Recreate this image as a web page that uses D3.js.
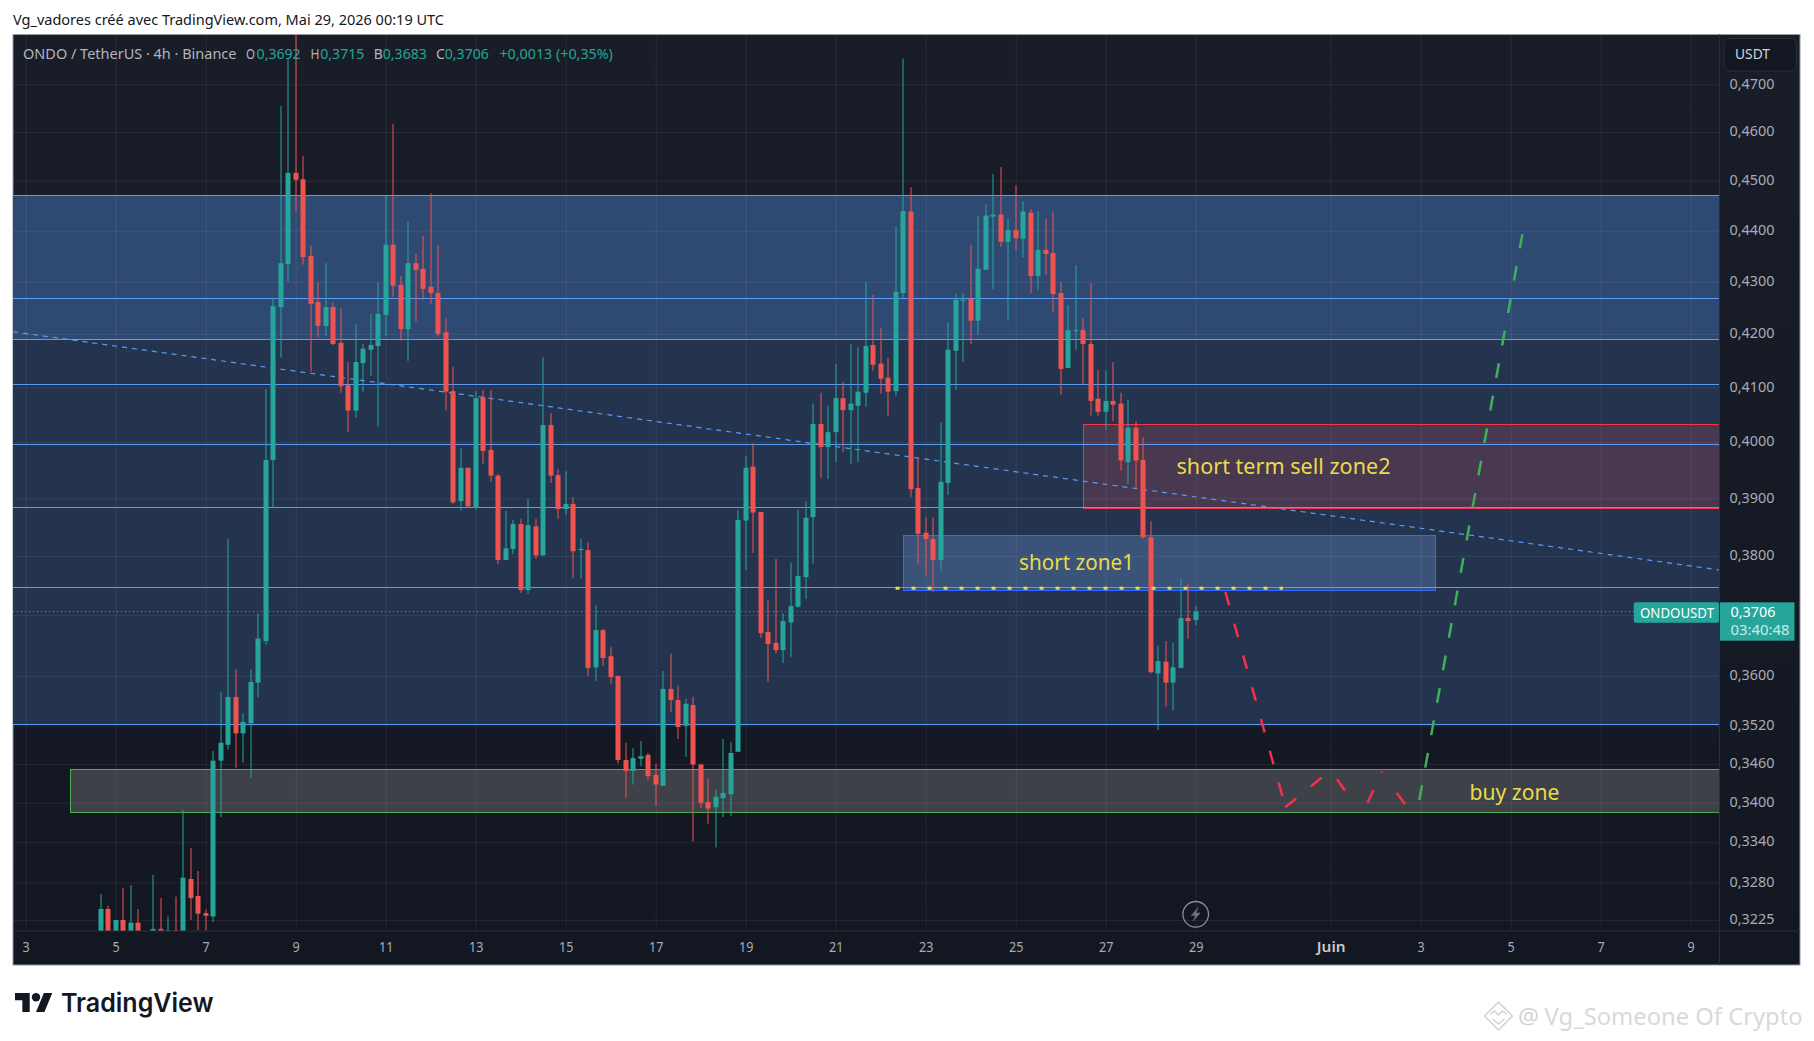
<!DOCTYPE html>
<html>
<head>
<meta charset="utf-8">
<title>ONDO / TetherUS</title>
<script src="https://cdn.jsdelivr.net/npm/d3@7"></script>
<style>
  html, body { margin: 0; padding: 0; background: #fff; }
  svg { display: block; }
  text { font-family: 'Noto Sans', sans-serif; }
</style>
</head>
<body>
<svg id="chart" width="1814" height="1041"></svg>
<script>
// 4h candles, first one is May 4 16:00 UTC. Candles below the pane are estimated.
const firstDay = 3 + 10 / 6;
const opens = [
  .3190,.3241,.3195,.3225,.3195,.3221,.3195,.3190,.3212,.3195,
  .3210,.3200,.3285,.3260,.3235,.3230,.3465,.3490,.3566,.3508,
  .3524,.3589,.3657,.3968,.4251,.4334,.4516,.4503,.4350,.4261,
  .4215,.4251,.4183,.4104,.4057,.4145,.4170,.4177,.4236,.4372,
  .4294,.4209,.4336,.4325,.4290,.4278,.4203,.4093,.3895,.3954,
  .3883,.4082,.3986,.3940,.3793,.3812,.3855,.3742,.3851,.3801,
  .4031,.3941,.3881,.3890,.3810,.3810,.3614,.3675,.3632,.3600,
  .3466,.3449,.3468,.3474,.3443,.3426,.3579,.3561,.3520,.3553,
  .3459,.3401,.3393,.3407,.3413,.3479,.3861,.3956,.3876,.3672,
  .3654,.3642,.3688,.3714,.3764,.3867,.4033,.3991,.4018,.4080,
  .4058,.4066,.4090,.4179,.4144,.4118,.4093,.4278,.4438,.3918,
  .3840,.3829,.3793,.3927,.4168,.4263,.4267,.4225,.4323,.4428,
  .4432,.4378,.4401,.4384,.4436,.4311,.4362,.4356,.4278,.4136,
  .4205,.4207,.4181,.4079,.4055,.4075,.4070,.3964,.4026,.3968,
  .3832,.3604,.3623,.3589,.3613,.3695,.3692];
const highs = [
  .3263,.3246,.3225,.3272,.3276,.3241,.3205,.3291,.3257,.3230,
  .3259,.3389,.3331,.3297,.3240,.3480,.3574,.3829,.3611,.3540,
  .3611,.3703,.4097,.4269,.4654,.4755,.4830,.4551,.4370,.4299,
  .4336,.4259,.4249,.4147,.4219,.4181,.4238,.4299,.4471,.4617,
  .4311,.4418,.4354,.4390,.4475,.4372,.4230,.4138,.3989,.3954,
  .4093,.4095,.4095,.3943,.3878,.3862,.3864,.3899,.3864,.4156,
  .4053,.3952,.3948,.3902,.3829,.3824,.3717,.3677,.3647,.3600,
  .3493,.3485,.3496,.3477,.3460,.3608,.3636,.3585,.3563,.3566,
  .3460,.3437,.3420,.3499,.3494,.3880,.3975,.3998,.3876,.3725,
  .3795,.3703,.3789,.3880,.3895,.4070,.4090,.4066,.4144,.4110,
  .4181,.4175,.4299,.4274,.4211,.4155,.4408,.4755,.4487,.3973,
  .3867,.3867,.4036,.4222,.4276,.4278,.4372,.4430,.4453,.4514,
  .4528,.4424,.4491,.4459,.4443,.4439,.4424,.4438,.4299,.4255,
  .4332,.4230,.4297,.4132,.4131,.4147,.4090,.4077,.4038,.4009,
  .3860,.3649,.3657,.3654,.3761,.3752,.3715];
const lows = [
  .3180,.3180,.3180,.3185,.3185,.3180,.3170,.3180,.3180,.3185,
  .3180,.3190,.3225,.3210,.3195,.3222,.3378,.3482,.3454,.3462,
  .3438,.3565,.3651,.3883,.4155,.4299,.4438,.4333,.4129,.4194,
  .4196,.4179,.4090,.4018,.4044,.4092,.4121,.4028,.4196,.4271,
  .4187,.4149,.4223,.4265,.4257,.4195,.4058,.3890,.3878,.3883,
  .3880,.3961,.3929,.3786,.3793,.3803,.3737,.3735,.3795,.3800,
  .3927,.3864,.3871,.3762,.3761,.3600,.3592,.3616,.3587,.3461,
  .3407,.3428,.3456,.3434,.3395,.3426,.3542,.3499,.3471,.3341,
  .3392,.3368,.3332,.3378,.3380,.3479,.3776,.3805,.3662,.3590,
  .3637,.3621,.3631,.3712,.3727,.3787,.3936,.3934,.3964,.3982,
  .3961,.3964,.4064,.4131,.4088,.4048,.4084,.4269,.3902,.3786,
  .3766,.3739,.3774,.3906,.4095,.4147,.4181,.4198,.4323,.4286,
  .4368,.4225,.4362,.4348,.4278,.4284,.4313,.4241,.4086,.4136,
  .4170,.4104,.4048,.4048,.4022,.4038,.3949,.3925,.3916,.3830,
  .3604,.3513,.3550,.3545,.3613,.3661,.3683];
const closes = [
  .3241,.3190,.3225,.3200,.3221,.3190,.3200,.3212,.3190,.3210,
  .3190,.3287,.3257,.3234,.3231,.3465,.3493,.3566,.3508,.3526,
  .3590,.3661,.3968,.4253,.4336,.4516,.4502,.4348,.4257,.4215,
  .4251,.4181,.4102,.4057,.4147,.4172,.4179,.4238,.4372,.4292,
  .4209,.4336,.4323,.4286,.4278,.4200,.4092,.3893,.3954,.3886,
  .4080,.3984,.3940,.3793,.3813,.3855,.3742,.3853,.3801,.4031,
  .3940,.3881,.3890,.3808,.3812,.3613,.3675,.3629,.3598,.3466,
  .3449,.3469,.3472,.3441,.3428,.3579,.3561,.3518,.3555,.3459,
  .3400,.3391,.3409,.3415,.3477,.3862,.3954,.3875,.3670,.3652,
  .3642,.3690,.3715,.3766,.3866,.4033,.3991,.4018,.4080,.4058,
  .4070,.4092,.4177,.4142,.4116,.4092,.4280,.4439,.3916,.3838,
  .3829,.3793,.3929,.4170,.4265,.4265,.4225,.4325,.4430,.4432,
  .4378,.4401,.4385,.4438,.4311,.4362,.4354,.4276,.4134,.4207,
  .4207,.4181,.4075,.4055,.4075,.4068,.3967,.4026,.3967,.3832,
  .3606,.3624,.3589,.3614,.3695,.3690,.3706];

// axes
const priceTicks = [.47,.46,.45,.44,.43,.42,.41,.40,.39,.38,.36,.352,.346,.34,.334,.328,.3225];
const gridPrices = [.47,.46,.45,.44,.43,.42,.41,.40,.39,.38,.37,.36,.352,.346,.34,.334,.328,.3225];
const timeTicks = [3,5,7,9,11,13,15,17,19,21,23,25,27,29,32,34,36,38,40];
const timeLabels = ['3','5','7','9','11','13','15','17','19','21','23','25','27','29','Juin','3','5','7','9'];

// drawings, days counted from May 0, prices in USDT
const hLevels = [.4471,.4268,.4190,.4107,.3996,.3884,.3747,.3522];
const outerZone = [.4471,.3522];
const upperZone = [.4471,.4190];
const sellZone = [26.5,.4032,.3882];
const shortZone = [22.5,34.33,.3836,.3742];
const buyZone = [3.99,.3452,.3385];
const trendDays = [2.72,40.64];
const trendPrices = [.4204,.3776];
const dottedDays = [22.33,30.94];
const dottedPrice = .3745;
// the red forecast is several separate dashed legs
const downLegDays = [[29.66,31.0],[30.99,31.98],[32.14,32.34],[32.82,33.14],[33.47,33.67]];
const downLegPrices = [[.3739,.3392],[.3393,.3449],[.3436,.3416],[.3400,.3448],[.3415,.3396]];
const upDays = [33.97,36.26];
const upPrices = [.3404,.4393];
const lastPrice = .3706;

const UP = '#26a69a', DOWN = '#ef5350', LINE = '#5b9cf6', YELLOW = '#e8dc4a';
const left = 13, top_ = 34.5, right = 1800, bottom = 965, plotRight = 1719.5, plotBottom = 931;

const x = d3.scaleLinear().domain([3, 40]).range([25.7, 1690.7]);
const y = d3.scaleLog().domain([.32, .47]).range([937.2, 84.3]);
const comma = d => d.toFixed(4).replace('.', ',');
const crisp = v => Math.round(v) + .5;

const svg = d3.select('#chart');
const defs = svg.append('defs');
const bg = defs.append('linearGradient').attr('id', 'bg').attr('x1', 0).attr('x2', 0).attr('y1', 0).attr('y2', 1);
bg.append('stop').attr('offset', 0).attr('stop-color', '#191d28');
bg.append('stop').attr('offset', 1).attr('stop-color', '#131722');
defs.append('clipPath').attr('id', 'plot').append('rect')
    .attr('x', left).attr('y', top_).attr('width', plotRight - left).attr('height', plotBottom - top_);

// pane
svg.append('rect').attr('x', left).attr('y', top_).attr('width', right - left).attr('height', bottom - top_)
    .attr('fill', 'url(#bg)').attr('stroke', '#9598a1').attr('stroke-width', 1);
const plot = svg.append('g').attr('clip-path', 'url(#plot)');

// blue background zones
plot.selectAll('.outer').data([outerZone, upperZone]).join('rect')
    .attr('x', left).attr('width', plotRight - left)
    .attr('y', d => y(d[0])).attr('height', d => y(d[1]) - y(d[0]))
    .attr('fill', (d, i) => i ? '#2f4a72' : '#24344f');

// buy / sell / short zones
plot.append('rect').attr('x', crisp(x(buyZone[0]))).attr('width', plotRight + 5 - x(buyZone[0]))
    .attr('y', crisp(y(buyZone[1]))).attr('height', Math.round(y(buyZone[2]) - y(buyZone[1])))
    .attr('fill', '#3f4148').attr('stroke', '#4caf50').attr('stroke-width', 1);
plot.append('rect').attr('x', crisp(x(sellZone[0]))).attr('width', plotRight + 5 - x(sellZone[0]))
    .attr('y', crisp(y(sellZone[1]))).attr('height', Math.round(y(sellZone[2]) - y(sellZone[1])))
    .attr('fill', '#f0505a').attr('fill-opacity', .18).attr('stroke', '#f23645').attr('stroke-width', 1);
plot.append('rect').attr('x', crisp(x(shortZone[0]))).attr('width', Math.round(x(shortZone[1]) - x(shortZone[0])))
    .attr('y', crisp(y(shortZone[2]))).attr('height', Math.round(y(shortZone[3]) - y(shortZone[2])))
    .attr('fill', '#5270a4').attr('fill-opacity', .5).attr('stroke', '#2f6bff').attr('stroke-width', 1);

// grid
plot.append('g').call(d3.axisLeft(y).tickValues(gridPrices).tickSize(-(plotRight - left)).tickFormat(''))
    .attr('transform', `translate(${left},0)`)
    .call(g => g.select('.domain').remove())
    .selectAll('line').attr('stroke', '#fff').attr('stroke-opacity', .07);
plot.append('g').call(d3.axisBottom(x).tickValues(timeTicks).tickSize(-(plotBottom - top_)).tickFormat(''))
    .attr('transform', `translate(0,${plotBottom})`)
    .call(g => g.select('.domain').remove())
    .selectAll('line').attr('stroke', '#fff').attr('stroke-opacity', .07);

// horizontal levels
plot.selectAll('.level').data(hLevels).join('line')
    .attr('x1', left).attr('x2', plotRight)
    .attr('y1', d => crisp(y(d))).attr('y2', d => crisp(y(d)))
    .attr('stroke', LINE).attr('stroke-width', 1);

// trend line
plot.append('line')
    .attr('x1', x(trendDays[0])).attr('y1', y(trendPrices[0]))
    .attr('x2', x(trendDays[1])).attr('y2', y(trendPrices[1]))
    .attr('stroke', LINE).attr('stroke-width', 1.2).attr('stroke-dasharray', '5 5');

// last price
plot.append('line').attr('x1', left).attr('x2', plotRight)
    .attr('y1', crisp(y(lastPrice))).attr('y2', crisp(y(lastPrice)))
    .attr('stroke', UP).attr('stroke-width', 1).attr('stroke-dasharray', '1 3');

// candles
const candles = opens.map((o, i) => ({ day: firstDay + i / 6, o, h: highs[i], l: lows[i], c: closes[i] }));
const candle = plot.selectAll('.candle').data(candles).join('g').attr('fill', d => d.c >= d.o ? UP : DOWN);
candle.append('rect')
    .attr('x', d => Math.round(x(d.day)) - .5).attr('width', 1)
    .attr('y', d => y(d.h)).attr('height', d => y(d.l) - y(d.h));
candle.append('rect')
    .attr('x', d => Math.round(x(d.day)) - 2.5).attr('width', 5)
    .attr('y', d => y(Math.max(d.o, d.c)))
    .attr('height', d => Math.max(1, Math.abs(y(d.o) - y(d.c))));

// forecast paths
const path = d3.line().x(d => x(d[0])).y(d => y(d[1]));
plot.selectAll('.down').data(downLegDays).join('path')
    .attr('d', (d, i) => path(d3.zip(d, downLegPrices[i])))
    .attr('fill', 'none').attr('stroke', '#f5304a').attr('stroke-width', 2.5).attr('stroke-dasharray', '14 19');
plot.append('path').attr('d', path(d3.zip(upDays, upPrices)))
    .attr('fill', 'none').attr('stroke', '#3fb05a').attr('stroke-width', 2.5).attr('stroke-dasharray', '15 18');
plot.append('line')
    .attr('x1', x(dottedDays[0])).attr('x2', x(dottedDays[1]))
    .attr('y1', y(dottedPrice)).attr('y2', y(dottedPrice))
    .attr('stroke', YELLOW).attr('stroke-width', 3).attr('stroke-dasharray', '4 12');

// zone labels
const label = (t, x0, w, cy) => svg.append('text').text(t)
    .attr('x', x0).attr('y', cy).attr('dy', '.34em')
    .attr('textLength', w).attr('lengthAdjust', 'spacingAndGlyphs')
    .style('font-size', '22px').style('fill', YELLOW);
label('short term sell zone2', 1176.5, 214, 466.7);
label('short zone1', 1019, 115, 563);
label('buy zone', 1469.5, 90, 792.7);

// price scale
svg.append('line').attr('x1', plotRight).attr('x2', plotRight).attr('y1', top_).attr('y2', bottom).attr('stroke', '#2a2e39');
svg.append('line').attr('x1', left).attr('x2', right).attr('y1', plotBottom).attr('y2', plotBottom).attr('stroke', '#2a2e39');
svg.append('g').attr('transform', `translate(${plotRight},0)`)
    .call(d3.axisRight(y).tickValues(priceTicks).tickSize(0).tickPadding(10).tickFormat(comma))
    .call(g => g.select('.domain').remove())
    .selectAll('text')
    .attr('dy', '.25em')
    .attr('textLength', 45).attr('lengthAdjust', 'spacingAndGlyphs')
    .style('font-size', '15px').style('font-family', "'Noto Sans', sans-serif").style('fill', '#a9acb5');

// time scale
svg.append('g').attr('transform', `translate(0,${plotBottom})`)
    .call(d3.axisBottom(x).tickValues(timeTicks).tickSize(0).tickPadding(10).tickFormat((d, i) => timeLabels[i]))
    .call(g => g.select('.domain').remove())
    .selectAll('text')
    .attr('textLength', (d, i) => timeLabels[i].length * 7.2).attr('lengthAdjust', 'spacingAndGlyphs')
    .style('font-size', '15px').style('font-family', "'Noto Sans', sans-serif")
    .style('font-weight', (d, i) => timeLabels[i] === 'Juin' ? 600 : 400)
    .style('fill', (d, i) => timeLabels[i] === 'Juin' ? '#c8cad0' : '#a9acb5');

// USDT button
svg.append('rect').attr('x', 1724).attr('y', 38.5).attr('width', 72.5).attr('height', 32.5).attr('rx', 6)
    .attr('fill', '#131722').attr('stroke', '#2a2e39');
const txt = (t, x0, w, cy, size, fill, weight) => svg.append('text').text(t)
    .attr('x', x0).attr('y', cy).attr('dy', '.35em')
    .attr('textLength', w).attr('lengthAdjust', 'spacingAndGlyphs')
    .style('font-size', size + 'px').style('fill', fill).style('font-weight', weight || 400);
txt('USDT', 1735, 35, 54, 15, '#d1d4dc');

// last price labels
svg.append('rect').attr('x', 1633.8).attr('y', 602.3).attr('width', 85.2).attr('height', 20.4).attr('rx', 2).attr('fill', UP);
svg.append('rect').attr('x', 1720).attr('y', 602.3).attr('width', 74.5).attr('height', 38.4).attr('fill', UP);
txt('ONDOUSDT', 1640, 74, 612.5, 15, '#fff');
txt(comma(lastPrice), 1730.5, 45, 611.7, 15, '#fff');
txt('03:40:48', 1730.5, 59, 629.3, 15, '#cfe9e6');

// legend line
txt('ONDO / TetherUS · 4h · Binance', 23, 213.5, 53.3, 15, '#b2b5be');
const legendHeads = [['O', 246, '0,3692', 256.6], ['H', 310.4, '0,3715', 320.3], ['B', 373.7, '0,3683', 382.8], ['C', 436.1, '0,3706', 444.8]];
legendHeads.forEach(d => {
  txt(d[0], d[1], 9, 53.3, 15, '#b2b5be');
  txt(d[2], d[3], 44, 53.3, 15, UP);
});
txt('+0,0013 (+0,35%)', 499.4, 113.5, 53.3, 15, UP);

// bolt
const bolt = svg.append('g').attr('transform', `translate(${x(29)},914.3)`);
bolt.append('circle').attr('r', 12.8).attr('fill', 'none').attr('stroke', '#8b8e98').attr('stroke-width', 1.3);
bolt.append('path').attr('d', 'M3.5 -8 L-5 1.5 L-0.5 1.5 L-3.5 8 L5 -1.5 L0.5 -1.5 Z').attr('fill', '#6f727c');

// page text
txt('Vg_vadores créé avec TradingView.com, Mai 29, 2026 00:19 UTC', 13, 431, 20, 15, '#131722');

const logo = svg.append('g').attr('transform', 'translate(15,988.8) scale(1.05)').attr('fill', '#131722');
logo.append('path').attr('d', 'M14 22H7V11H0V4h14v18zM28 22h-8l7.5-18h8L28 22z');
logo.append('circle').attr('cx', 20).attr('cy', 8).attr('r', 4);
txt('TradingView', 61, 152.5, 1003, 26, '#131722', 600).style('font-family', "Inter, sans-serif");

// watermark
const mark = svg.append('g').attr('transform', 'translate(1498.5,1016)').attr('fill', 'none').attr('stroke', '#cfd3d8').attr('stroke-width', 1.5);
mark.append('path').attr('d', 'M0 -14 L14 0 L0 14 L-14 0 Z');
mark.append('path').attr('d', 'M-8 -2 L-4 -5 L0 -1 L4 -5 L8 -2 M-6 3 L0 8 L6 3');
txt('@', 1518, 21, 1016.7, 22, '#cfd3d8');
txt('Vg_Someone Of Crypto', 1544.6, 258, 1016.7, 23, '#d6d9dd');
</script>
</body>
</html>
